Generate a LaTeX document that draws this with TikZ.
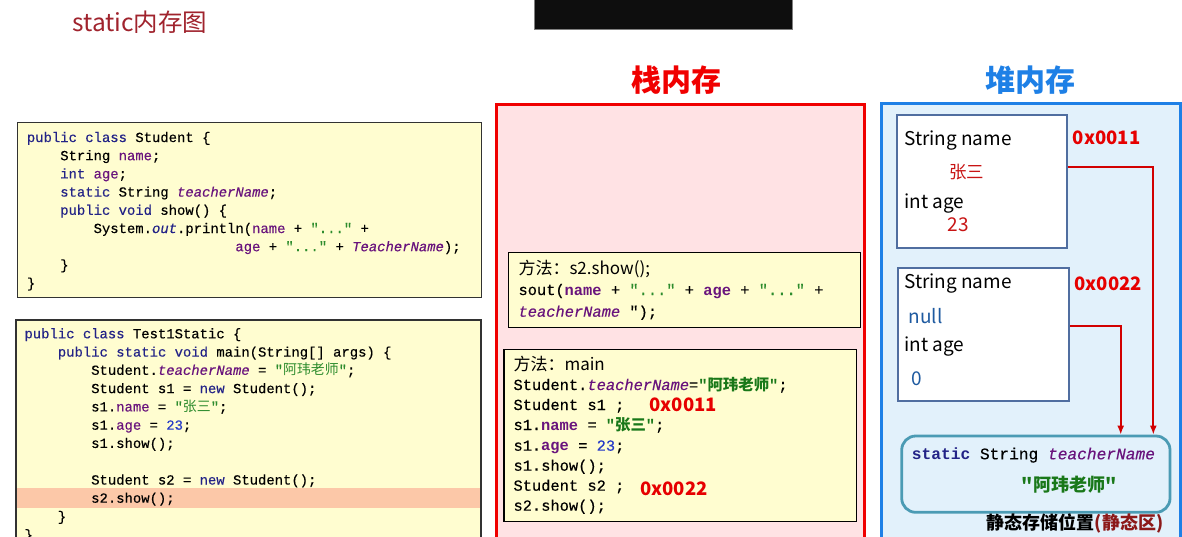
\documentclass[tikz,border=0pt]{standalone}
\usepackage{fontspec}
\usetikzlibrary{arrows.meta}
\newfontfamily\ui{Noto Sans CJK SC}
\newfontfamily\mono[UprightFeatures={FakeBold=0.35},ItalicFeatures={FakeBold=0.35}]{Liberation Mono}
\definecolor{kwc}{RGB}{35,35,135}
\definecolor{fldc}{RGB}{105,20,125}
\definecolor{strc}{RGB}{45,140,45}
\definecolor{bstrc}{RGB}{25,120,25}
\definecolor{numc}{RGB}{40,60,200}
\definecolor{titlered}{RGB}{160,35,45}
\definecolor{codebg}{RGB}{255,253,208}
\definecolor{hlc}{RGB}{252,200,168}
\definecolor{pinkbg}{RGB}{255,226,228}
\definecolor{stackred}{RGB}{240,0,0}
\definecolor{heapblue}{RGB}{30,128,230}
\definecolor{heapbg}{RGB}{226,241,251}
\definecolor{objborder}{RGB}{80,110,160}
\definecolor{statborder}{RGB}{75,155,180}
\definecolor{addrred}{RGB}{230,0,0}
\definecolor{valred}{RGB}{200,20,20}
\definecolor{valblue}{RGB}{30,90,160}
\definecolor{ptrred}{RGB}{210,0,0}
\definecolor{darkred}{RGB}{140,25,25}
\newcommand\kw[1]{\textcolor{kwc}{#1}}
\newcommand\fld[1]{\textcolor{fldc}{#1}}
\newcommand\bfld[1]{\textcolor{fldc}{\bfseries #1}}
\newcommand\ifl[1]{\textcolor{fldc}{\itshape #1}}
\newcommand\jstr[1]{\textcolor{strc}{#1}}
\newcommand\bstr[1]{\textcolor{bstrc}{\bfseries #1}}
\newcommand\jnum[1]{\textcolor{numc}{#1}}
\newcommand\zh[1]{{\ui #1}}
\tikzset{
  cl/.style={anchor=base west, inner sep=0pt, font=\mono\fontsize{13.9}{14}\selectfont},
  sl/.style={anchor=base west, inner sep=0pt, font=\mono\fontsize{15.4}{16}\selectfont},
  hd/.style={anchor=base west, inner sep=0pt, font=\ui\fontsize{17}{18}\selectfont},
  ht/.style={anchor=base west, inner sep=0pt, font=\ui\fontsize{19}{20}\selectfont},
  addr/.style={anchor=base west, inner sep=0pt, font=\ui\bfseries\fontsize{18.5}{19}\selectfont, text=addrred},
  codebox/.style={draw={rgb,255:red,50;green,50;blue,50}, fill=codebg, line width=1.4pt, inner sep=0pt},
  objbox/.style={draw=objborder, fill=white, line width=2pt, inner sep=0pt},
  ptr/.style={draw=ptrred, line width=1.7pt, -{Latex[length=9pt,width=7pt]}},
}
\begin{document}
\begin{tikzpicture}[x=1pt,y=-1pt]
\useasboundingbox (0,0) rectangle (1182,536);
\clip (0,0) rectangle (1182,536);
\fill[white] (0,0) rectangle (1182,536);

% title and top bar
\node[anchor=base west, inner sep=0pt, text=titlered, font=\ui\fontsize{24.5}{25}\selectfont] (title) at (72.3,31) {static内存图};
\node[fill={rgb,255:red,14;green,14;blue,14}, draw=gray, line width=0.6pt, inner sep=0pt, minimum width=258, minimum height=30] (bar) at (663,14) {};

% code box 1
\node[codebox, minimum width=464.4, minimum height=174.6] (box1) at (249.5,210) {};
\node[cl] (a1) at (26.7,142) {\kw{public} \kw{class} Student \{};
\node[cl] (a2) at (60.06,160.2) {String \fld{name};};
\node[cl] (a3) at (60.06,178.4) {\kw{int} \fld{age};};
\node[cl] (a4) at (60.06,196.6) {\kw{static} String \ifl{teacherName};};
\node[cl] (a5) at (60.06,214.8) {\kw{public} \kw{void} show() \{};
\node[cl] (a6) at (93.42,233) {System.\textcolor{kwc}{\itshape out}.println(\fld{name} + \jstr{"..."} +};
\node[cl] (a7) at (235.2,251.2) {\fld{age} + \jstr{"..."} + \ifl{TeacherName});};
\node[cl] (a8) at (60.06,269.4) {\}};
\node[cl] (a9) at (26.7,287.6) {\}};

% code box 2
\node[codebox, minimum width=465, minimum height=240] (box2) at (248.5,440) {};
\node[fill=hlc, inner sep=0pt, minimum width=463, minimum height=20] (hl) at (248.5,498.3) {};
\node[cl] (b1) at (24.3,338.3) {\kw{public} \kw{class} Test1Static \{};
\node[cl] (b2) at (57.66,356.6) {\kw{public} \kw{static} \kw{void} main(String[] args) \{};
\node[cl] (b3) at (91.02,374.8) {Student.\ifl{teacherName} = \jstr{"\zh{阿玮老师}"};};
\node[cl] (b4) at (91.02,393.1) {Student s1 = \kw{new} Student();};
\node[cl] (b5) at (91.02,411.4) {s1.\fld{name} = \jstr{"\zh{张三}"};};
\node[cl] (b6) at (91.02,429.7) {s1.\fld{age} = \jnum{23};};
\node[cl] (b7) at (91.02,447.9) {s1.show();};
\node[cl] (b8) at (91.02,484.5) {Student s2 = \kw{new} Student();};
\node[cl] (b9) at (91.02,502.7) {s2.show();};
\node[cl] (b10) at (57.66,521) {\}};
\node[cl] (b11) at (24.3,539.3) {\}};

% stack
\node[anchor=base, inner sep=0pt, text=stackred, font=\ui\bfseries\fontsize{30}{31}\selectfont] (stackt) at (676,91) {栈内存};
\node[draw=stackred, fill=pinkbg, line width=3.5pt, inner sep=0pt, minimum width=367.8, minimum height=470] (stack) at (680.6,339.5) {};
\node[draw=black, fill=codebg, line width=1.3pt, inner sep=0pt, minimum width=352.4, minimum height=74.6] (sb1) at (684.5,290) {};
\node[hd] (s1a) at (518.3,274.3) {方法：s2.show();};
\node[sl] (s1b) at (518.3,295) {sout(\bfld{name} + \jstr{"..."} + \bfld{age} + \jstr{"..."} +};
\node[sl] (s1c) at (518.3,316.7) {\ifl{teacherName} ");};
\node[draw=black, fill=codebg, line width=1.3pt, inner sep=0pt, minimum width=352.7, minimum height=172.4] (sb2) at (680.35,435.5) {};
\node[hd] (m0) at (513.3,370) {方法：main};
\node[sl] (m1) at (513.3,390) {Student.\ifl{teacherName}=\bstr{"\zh{阿玮老师}"};};
\node[sl] (m2) at (513.3,410) {Student s1 ;};
\node[addr] (m2a) at (649.3,411.7) {0x0011};
\node[sl] (m3) at (513.3,430) {s1.\bfld{name} = \bstr{"\zh{张三}"};};
\node[sl] (m4) at (513.3,450.7) {s1.\bfld{age} = \jnum{23};};
\node[sl] (m5) at (513.3,470.7) {s1.show();};
\node[sl] (m6) at (513.3,490.7) {Student s2 ;};
\node[addr] (m6a) at (640,495) {0x0022};
\node[sl] (m7) at (513.3,510.7) {s2.show();};

% heap
\node[anchor=base, inner sep=0pt, text=heapblue, font=\ui\bfseries\fontsize{30}{31}\selectfont] (heapt) at (1030,91) {堆内存};
\node[draw=heapblue, fill=heapbg, line width=3pt, inner sep=0pt, minimum width=298.5, minimum height=470] (heap) at (1030.75,338.5) {};

\node[objbox, minimum width=170, minimum height=133.3] (obj1) at (981.7,181.65) {};
\node[ht] (o1a) at (904,145) {String name};
\node[anchor=base west, inner sep=0pt, text=valred, font=\ui\fontsize{17.5}{18}\selectfont] (o1b) at (949,178.3) {张三};
\node[ht] (o1c) at (904,208.3) {int age};
\node[anchor=base west, inner sep=0pt, text=valred, font=\ui\fontsize{19}{20}\selectfont] (o1d) at (947.7,231.7) {23};
\node[addr] (o1addr) at (1072.7,144) {0x0011};

\node[objbox, minimum width=171, minimum height=133] (obj2) at (983.8,334.2) {};
\node[ht] (o2a) at (904,288.3) {String name};
\node[anchor=base west, inner sep=0pt, text=valblue, font=\ui\fontsize{19}{20}\selectfont] (o2b) at (908.3,323.3) {null};
\node[ht] (o2c) at (904,351.7) {int age};
\node[anchor=base west, inner sep=0pt, text=valblue, font=\ui\fontsize{19}{20}\selectfont] (o2d) at (911,385) {0};
\node[addr] (o2addr) at (1074.3,290.7) {0x0022};

\node[draw=statborder, fill=heapbg, line width=2.8pt, rounded corners=14pt, inner sep=0pt, minimum width=268.3, minimum height=76.3] (st) at (1035.85,474.15) {};
\node[anchor=base west, inner sep=0pt, font=\mono\fontsize{16.2}{17}\selectfont] (st1) at (911.7,459.3) {\textcolor{kwc}{\bfseries static} String \ifl{teacherName}};
\node[anchor=base west, inner sep=0pt, text=bstrc, font=\ui\bfseries\fontsize{18}{19}\selectfont] (st2) at (1021.7,491.7) {"阿玮老师"};
\node[anchor=base west, inner sep=0pt, font=\ui\bfseries\fontsize{18}{19}\selectfont] (stl) at (986.7,529.5) {静态存储位置\textcolor{darkred}{(静态区)}};

\draw[ptr] ([yshift=15pt]obj1.east) -| ([xshift=117.45pt]st.north);
\draw[ptr] ([yshift=8.5pt]obj2.east) -| ([xshift=84.85pt]st.north);
\end{tikzpicture}
\end{document}
